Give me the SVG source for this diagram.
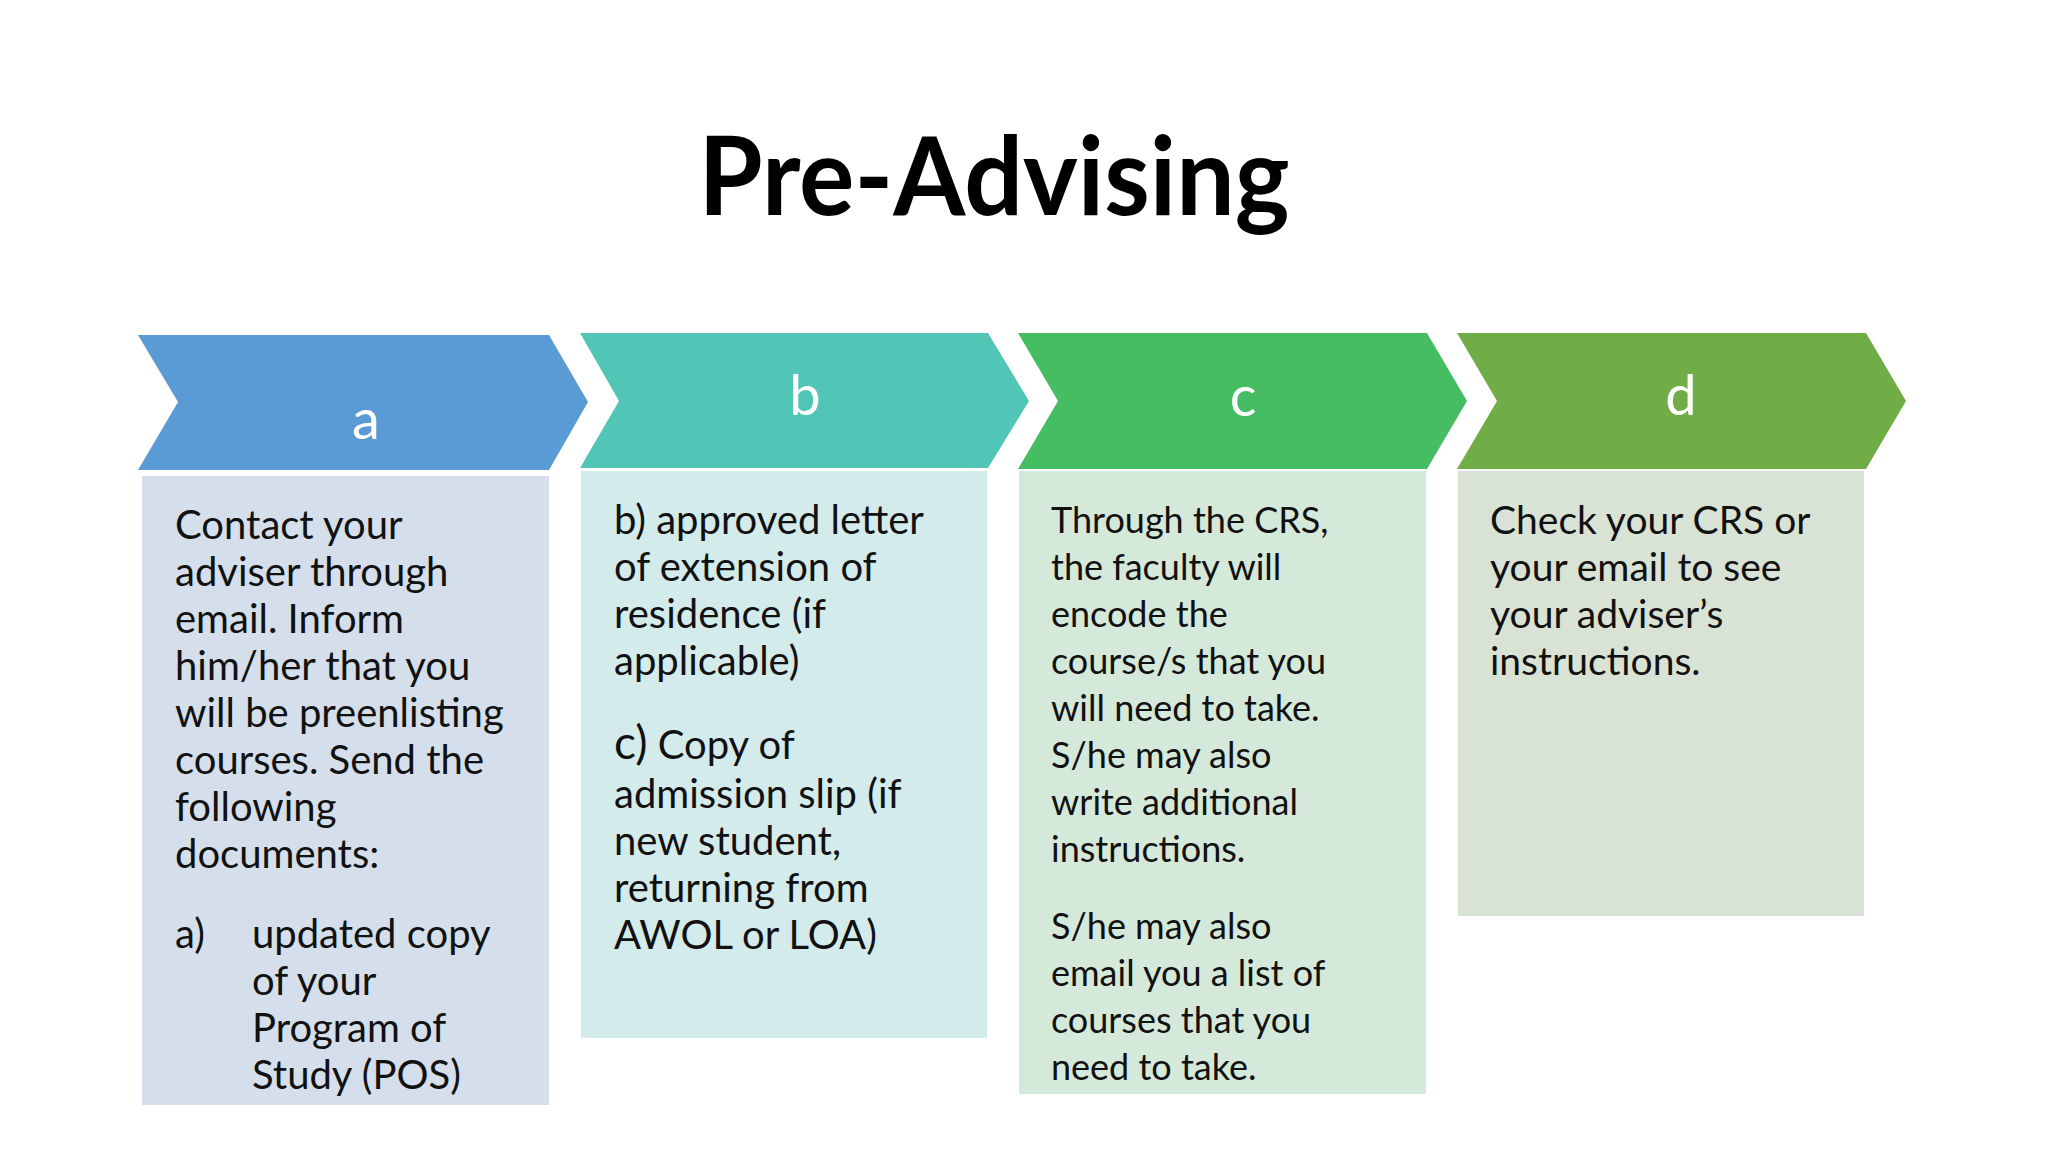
<svg xmlns="http://www.w3.org/2000/svg" width="2048" height="1152" viewBox="0 0 2048 1152">
<style>
.title{font-family:Lato,"Open Sans",sans-serif;font-weight:700;font-size:110px;fill:#000}
.lbl{font-family:Lato,"Open Sans",sans-serif;font-size:56px;fill:#fff;text-anchor:middle}
.body{font-family:Lato,"Open Sans",sans-serif;font-size:40px;fill:#111}
.bodyc{font-family:Lato,"Open Sans",sans-serif;font-size:36px;fill:#111}
.bodyd{font-family:Lato,"Open Sans",sans-serif;font-size:39px;fill:#111}
</style>
<rect width="2048" height="1152" fill="#fff"/>
<text class="title" x="994" y="215" text-anchor="middle" textLength="591" lengthAdjust="spacingAndGlyphs">Pre-Advising</text>
<g id="connectors"></g>
<g id="node-a">
<polygon points="138,335 549,335 588,402 549,470 138,470 178,402" fill="#5B9BD5"/>
<text class="lbl" x="366" y="439">a</text>
<rect x="142" y="476" width="407" height="629" fill="#D4DFEB"/>
<text class="body">
<tspan x="175" y="539">Contact your</tspan>
<tspan x="175" y="586">adviser through</tspan>
<tspan x="175" y="633">email. Inform</tspan>
<tspan x="175" y="680">him/her that you</tspan>
<tspan x="175" y="727">will be preenlisting</tspan>
<tspan x="175" y="774">courses. Send the</tspan>
<tspan x="175" y="821">following</tspan>
<tspan x="175" y="868">documents:</tspan>
<tspan x="175" y="948">a)</tspan>
<tspan x="252" y="948">updated copy</tspan>
<tspan x="252" y="995">of your</tspan>
<tspan x="252" y="1042">Program of</tspan>
<tspan x="252" y="1089">Study (POS)</tspan>
</text>
</g>
<g id="node-b">
<polygon points="580,333 988,333 1029,401 988,468 580,468 619,401" fill="#51C6B6"/>
<text class="lbl" x="805" y="415">b</text>
<rect x="581" y="471" width="406" height="567" fill="#D4EBEC"/>
<text class="body">
<tspan x="614" y="534">b) approved letter</tspan>
<tspan x="614" y="581">of extension of</tspan>
<tspan x="614" y="628">residence (if</tspan>
<tspan x="614" y="675">applicable)</tspan>
<tspan x="614" y="759"><tspan style="font-size:46px">c)</tspan> Copy of</tspan>
<tspan x="614" y="808">admission slip (if</tspan>
<tspan x="614" y="855">new student,</tspan>
<tspan x="614" y="902">returning from</tspan>
<tspan x="614" y="949">AWOL or LOA)</tspan>
</text>
</g>
<g id="node-c">
<polygon points="1018,333 1427,333 1467,401 1427,469 1018,469 1058,401" fill="#47BD63"/>
<text class="lbl" x="1243" y="416">c</text>
<rect x="1019" y="471" width="407" height="623" fill="#D5E9DA"/>
<text class="bodyc">
<tspan x="1051" y="533">Through the CRS,</tspan>
<tspan x="1051" y="580">the faculty will</tspan>
<tspan x="1051" y="627">encode the</tspan>
<tspan x="1051" y="674">course/s that you</tspan>
<tspan x="1051" y="721">will need to take.</tspan>
<tspan x="1051" y="768">S/he may also</tspan>
<tspan x="1051" y="815">write additional</tspan>
<tspan x="1051" y="862">instructions.</tspan>
<tspan x="1051" y="939">S/he may also</tspan>
<tspan x="1051" y="986">email you a list of</tspan>
<tspan x="1051" y="1033">courses that you</tspan>
<tspan x="1051" y="1080">need to take.</tspan>
</text>
</g>
<g id="node-d">
<polygon points="1457,333 1866,333 1906,401 1866,469 1457,469 1497,401" fill="#70AD47"/>
<text class="lbl" x="1681" y="415">d</text>
<rect x="1458" y="471" width="406" height="445" fill="#D9E3D5"/>
<text class="bodyd">
<tspan x="1490" y="534">Check your CRS or</tspan>
<tspan x="1490" y="581">your email to see</tspan>
<tspan x="1490" y="628">your adviser’s</tspan>
<tspan x="1490" y="675">instructions.</tspan>
</text>
</g>
</svg>
